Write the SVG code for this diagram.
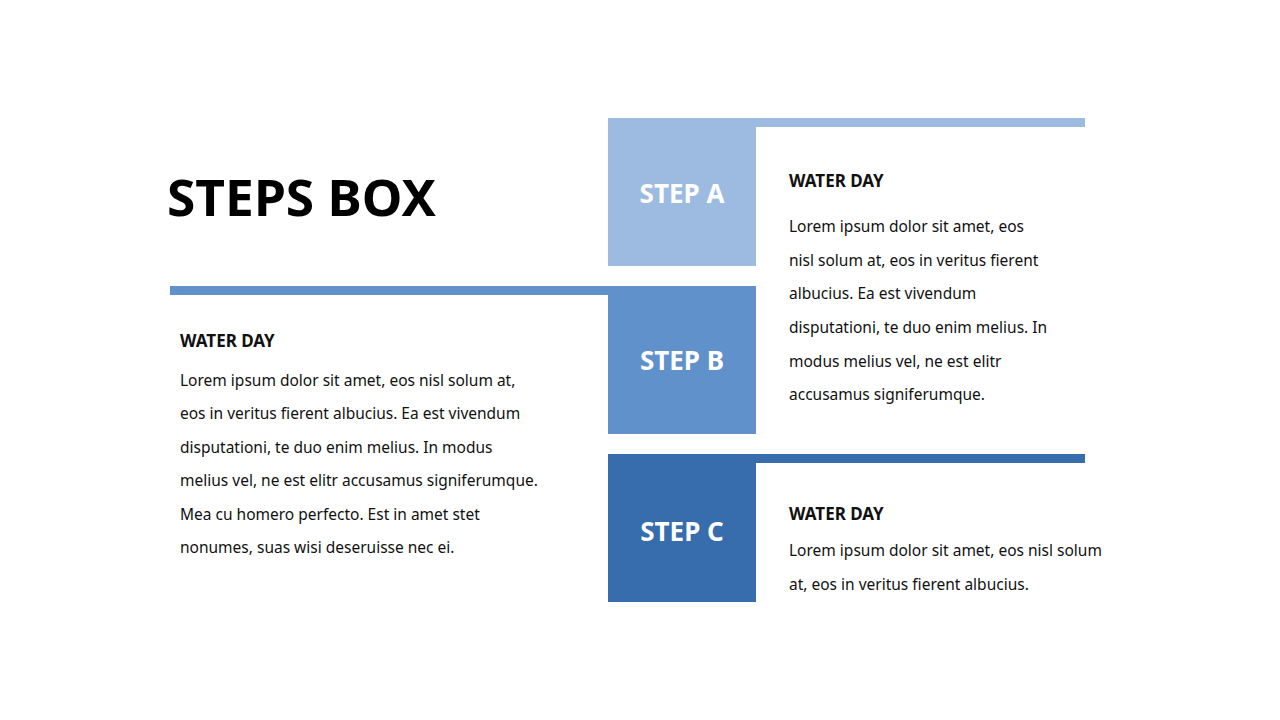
<svg xmlns="http://www.w3.org/2000/svg" width="1280" height="720" viewBox="0 0 1280 720">
<style>
.t{font-family:"Noto Sans","Liberation Sans",sans-serif;font-size:15.5px;fill:#111}
.h{font-family:"Noto Sans","Liberation Sans",sans-serif;font-size:17px;font-weight:bold;fill:#111}
.s{font-family:"Noto Sans","Liberation Sans",sans-serif;font-size:26px;font-weight:bold;fill:#fff;text-anchor:middle}
</style>
<rect width="1280" height="720" fill="#fff"/>
<text x="167" y="216" font-family="Noto Sans, Liberation Sans, sans-serif" font-size="50" font-weight="bold" fill="#000" textLength="269" lengthAdjust="spacingAndGlyphs">STEPS BOX</text>
<g id="connectors">
<rect x="608" y="118" width="477" height="9" fill="#9DBBE0"/>
<rect x="170" y="286" width="440" height="9" fill="#6091CB"/>
<rect x="608" y="454" width="477" height="9" fill="#376CAD"/>
</g>
<g id="stepA"><rect x="608" y="118" width="148" height="148" fill="#9DBBE0"/><text class="s" x="682" y="203">STEP A</text></g>
<g id="stepB"><rect x="608" y="286" width="148" height="148" fill="#6091CB"/><text class="s" x="682" y="370">STEP B</text></g>
<g id="stepC"><rect x="608" y="454" width="148" height="148" fill="#376CAD"/><text class="s" x="682" y="541">STEP C</text></g>
<g id="textA">
<text class="h" x="789" y="187">WATER DAY</text>
<text class="t" x="789" y="232">Lorem ipsum dolor sit amet, eos</text>
<text class="t" x="789" y="266">nisl solum at, eos in veritus fierent</text>
<text class="t" x="789" y="299">albucius. Ea est vivendum</text>
<text class="t" x="789" y="333">disputationi, te duo enim melius.  In</text>
<text class="t" x="789" y="367">modus melius vel, ne est elitr</text>
<text class="t" x="789" y="400">accusamus signiferumque.</text>
</g>
<g id="textB">
<text class="h" x="180" y="347">WATER DAY</text>
<text class="t" x="180" y="386">Lorem ipsum dolor sit amet, eos nisl solum at,</text>
<text class="t" x="180" y="419">eos in veritus fierent albucius. Ea est vivendum</text>
<text class="t" x="180" y="453">disputationi, te duo enim melius.  In modus</text>
<text class="t" x="180" y="486">melius vel, ne est elitr  accusamus signiferumque.</text>
<text class="t" x="180" y="520">Mea cu homero perfecto. Est in amet stet</text>
<text class="t" x="180" y="553">nonumes, suas wisi deseruisse nec ei.</text>
</g>
<g id="textC">
<text class="h" x="789" y="520">WATER DAY</text>
<text class="t" x="789" y="556">Lorem ipsum dolor sit amet, eos nisl solum</text>
<text class="t" x="789" y="590">at, eos in veritus fierent albucius.</text>
</g>
</svg>
